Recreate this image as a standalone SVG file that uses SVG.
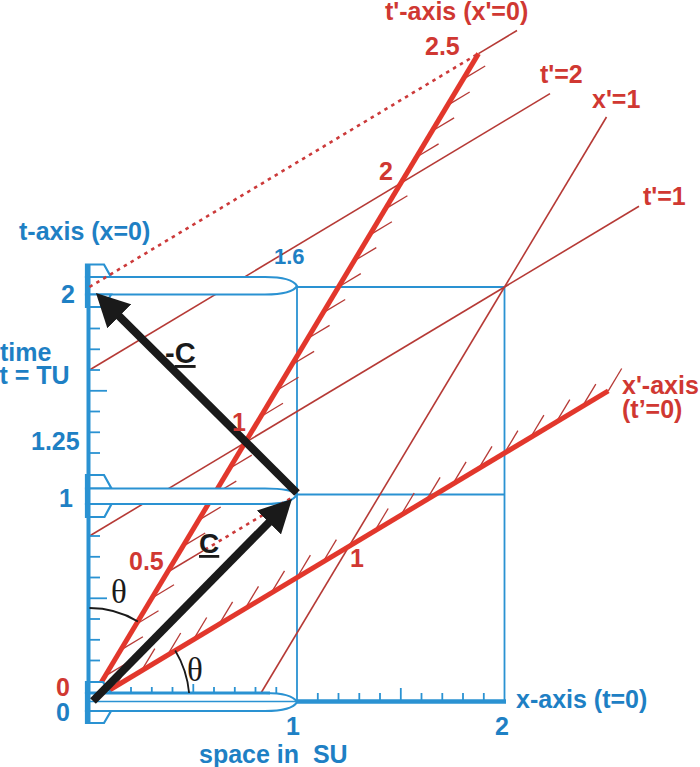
<svg xmlns="http://www.w3.org/2000/svg" width="700" height="767" viewBox="0 0 700 767">
<style>
.grid{stroke:#2a92d2;stroke-width:1.8;fill:none}
.cap{stroke:#2a92d2;stroke-width:2.2;fill:#fff}
.axb{stroke:#2a92d2;stroke-width:4;fill:none}
.tick{stroke:#2a92d2;stroke-width:1.8}
.rthin{stroke:#b63a36;stroke-width:1.6;fill:none}
.hatch{stroke:#b63a36;stroke-width:1.3}
.rthick{stroke:#e2372c;stroke-width:5;fill:none}
.dot{stroke:#cc3a3a;stroke-width:2.6;stroke-dasharray:3.5 4.5;fill:none}
.arc{stroke:#1a1a1a;stroke-width:1.8;fill:none}
.vec{stroke:#1a1a1a;stroke-width:8;fill:none;marker-end:url(#head)}
text{font-family:"Liberation Sans",Arial,sans-serif;font-weight:bold;font-size:25px}
.tr{fill:#d03832}
.tb{fill:#1e80c4}
.tk{fill:#1a1a1a}
text.th{font-family:"Liberation Serif","Times New Roman",serif;font-weight:normal;font-size:33px}
</style>
<defs>
<marker id="head" markerUnits="userSpaceOnUse" markerWidth="33" markerHeight="34" viewBox="0 0 33 34" refX="17" refY="17" orient="auto">
<path d="M0,0 L33,17 L0,34 Z" fill="#1a1a1a"/>
</marker>
</defs>

<g id="grid">
<line class="grid" x1="297" y1="287" x2="297" y2="701"/>
<line class="grid" x1="504.5" y1="287" x2="504.5" y2="701"/>
<line class="grid" x1="297" y1="287" x2="504.5" y2="287"/>
<line class="grid" x1="297" y1="494.5" x2="504.5" y2="494.5"/>
</g>

<g id="connectors">
<g id="red-lines">
<line class="rthin" x1="478.5" y1="53.6" x2="517" y2="30.5"/>
<line class="rthin" x1="89.5" y1="370" x2="550" y2="93.6"/>
<line class="rthin" x1="89.5" y1="536" x2="639" y2="206.3"/>
<line class="rthin" x1="261" y1="693" x2="606.5" y2="117"/>
<line class="rthin" x1="167.3" y1="572.3" x2="203" y2="550.9"/>
</g>
<g id="hatches-tprime">
<line class="hatch" x1="105.1" y1="676.1" x2="127.4" y2="662.7"/>
<line class="hatch" x1="120.6" y1="650.1" x2="142.9" y2="636.7"/>
<line class="hatch" x1="136.2" y1="624.2" x2="158.5" y2="610.8"/>
<line class="hatch" x1="151.7" y1="598.2" x2="174" y2="584.8"/>
<line class="hatch" x1="182.9" y1="546.4" x2="205.2" y2="533"/>
<line class="hatch" x1="198.4" y1="520.4" x2="220.7" y2="507"/>
<line class="hatch" x1="214" y1="494.5" x2="236.3" y2="481.1"/>
<line class="hatch" x1="229.5" y1="468.5" x2="251.8" y2="455.1"/>
<line class="hatch" x1="260.7" y1="416.7" x2="283" y2="403.3"/>
<line class="hatch" x1="276.2" y1="390.7" x2="298.5" y2="377.3"/>
<line class="hatch" x1="291.8" y1="364.8" x2="314.1" y2="351.4"/>
<line class="hatch" x1="307.3" y1="338.8" x2="329.6" y2="325.4"/>
<line class="hatch" x1="322.9" y1="312.9" x2="345.2" y2="299.5"/>
<line class="hatch" x1="338.5" y1="287" x2="360.8" y2="273.6"/>
<line class="hatch" x1="354" y1="261" x2="376.3" y2="247.6"/>
<line class="hatch" x1="369.6" y1="235.1" x2="391.9" y2="221.7"/>
<line class="hatch" x1="385.1" y1="209.1" x2="407.4" y2="195.7"/>
<line class="hatch" x1="416.3" y1="157.3" x2="438.6" y2="143.9"/>
<line class="hatch" x1="431.8" y1="131.3" x2="454.1" y2="117.9"/>
<line class="hatch" x1="447.4" y1="105.4" x2="469.7" y2="92"/>
<line class="hatch" x1="462.9" y1="79.4" x2="485.2" y2="66"/>
</g>
<g id="hatches-xprime">
<line class="hatch" x1="115.4" y1="686.4" x2="128.8" y2="664.1"/>
<line class="hatch" x1="141.4" y1="670.9" x2="154.8" y2="648.6"/>
<line class="hatch" x1="167.3" y1="655.3" x2="180.7" y2="633"/>
<line class="hatch" x1="193.3" y1="639.8" x2="206.7" y2="617.5"/>
<line class="hatch" x1="219.2" y1="624.2" x2="232.6" y2="601.9"/>
<line class="hatch" x1="245.1" y1="608.6" x2="258.5" y2="586.3"/>
<line class="hatch" x1="271.1" y1="593.1" x2="284.5" y2="570.8"/>
<line class="hatch" x1="297" y1="577.5" x2="310.4" y2="555.2"/>
<line class="hatch" x1="323" y1="562" x2="336.4" y2="539.7"/>
<line class="hatch" x1="374.8" y1="530.8" x2="388.2" y2="508.5"/>
<line class="hatch" x1="400.8" y1="515.3" x2="414.2" y2="493"/>
<line class="hatch" x1="426.7" y1="499.7" x2="440.1" y2="477.4"/>
<line class="hatch" x1="452.7" y1="484.2" x2="466.1" y2="461.9"/>
<line class="hatch" x1="478.6" y1="468.6" x2="492" y2="446.3"/>
<line class="hatch" x1="504.5" y1="453" x2="517.9" y2="430.7"/>
<line class="hatch" x1="530.5" y1="437.5" x2="543.9" y2="415.2"/>
<line class="hatch" x1="556.4" y1="421.9" x2="569.8" y2="399.6"/>
<line class="hatch" x1="582.4" y1="406.4" x2="595.8" y2="384.1"/>
<line class="hatch" x1="608.3" y1="390.8" x2="621.7" y2="368.5"/>
</g>
<g id="red-axes">
<line class="rthick" x1="89.5" y1="702" x2="478.5" y2="53.6"/>
<line class="rthick" x1="89.5" y1="702" x2="608.3" y2="390.8"/>
</g>
</g>

<g id="level-t2">
<path class="cap" d="M86,264.5 H104 L111,277 H86 Z"/>
<path class="cap" d="M86,277 H265 Q292,277 297,286 Q292,294.5 265,294.5 H86 Z"/>
<path class="cap" d="M86,294.5 H111 L104,307 H86 Z"/>
</g>
<g id="level-t1">
<path class="cap" d="M86,475 H104 L111.5,488.5 H86 Z"/>
<path class="cap" d="M86,488.5 H265 Q292,488.5 297,494.5 Q292,504 265,504 H86 Z"/>
<path class="cap" d="M86,504 H111.5 L104.5,517 H86 Z"/>
</g>
<g id="level-t0">
<path class="cap" d="M86,682 H103 L111,693 H86 Z"/>
<path class="cap" d="M86,693 H265 Q292,693 297,702 Q292,711 265,711 H86 Z"/>
<path class="cap" d="M86,711 H111 L104,723 H86 Z"/>
<line x1="86" y1="693" x2="270" y2="693" stroke="#2a92d2" stroke-width="3"/>
<line x1="88" y1="701.5" x2="296" y2="701.5" stroke="#2a92d2" stroke-width="1.4"/>
</g>

<g id="x-axis">
<line x1="297" y1="701.5" x2="506" y2="701.5" stroke="#2a92d2" stroke-width="4.5"/>
<g class="tick">
<line x1="131" y1="693" x2="131" y2="687"/>
<line x1="151.8" y1="693" x2="151.8" y2="687"/>
<line x1="172.5" y1="693" x2="172.5" y2="687"/>
<line x1="193.3" y1="693" x2="193.3" y2="684"/>
<line x1="214" y1="693" x2="214" y2="687"/>
<line x1="234.8" y1="693" x2="234.8" y2="687"/>
<line x1="255.5" y1="693" x2="255.5" y2="687"/>
<line x1="276.3" y1="693" x2="276.3" y2="687"/>
<line x1="317.8" y1="700" x2="317.8" y2="693"/>
<line x1="338.5" y1="700" x2="338.5" y2="693"/>
<line x1="359.3" y1="700" x2="359.3" y2="693"/>
<line x1="380" y1="700" x2="380" y2="693"/>
<line x1="400.8" y1="700" x2="400.8" y2="688"/>
<line x1="421.5" y1="700" x2="421.5" y2="693"/>
<line x1="442.3" y1="700" x2="442.3" y2="693"/>
<line x1="463" y1="700" x2="463" y2="693"/>
<line x1="483.8" y1="700" x2="483.8" y2="693"/>
</g>
</g>

<g id="t-axis">
<line class="axb" x1="88.5" y1="264.5" x2="88.5" y2="723"/>
<g class="tick">
<line x1="90" y1="660.5" x2="100" y2="660.5"/>
<line x1="90" y1="639.8" x2="100" y2="639.8"/>
<line x1="90" y1="619" x2="100" y2="619"/>
<line x1="90" y1="598.3" x2="107" y2="598.3"/>
<line x1="90" y1="577.5" x2="100" y2="577.5"/>
<line x1="90" y1="556.8" x2="100" y2="556.8"/>
<line x1="90" y1="536" x2="100" y2="536"/>
<line x1="90" y1="453" x2="100" y2="453"/>
<line x1="90" y1="432.3" x2="100" y2="432.3"/>
<line x1="90" y1="411.5" x2="100" y2="411.5"/>
<line x1="90" y1="390.8" x2="107" y2="390.8"/>
<line x1="90" y1="370" x2="100" y2="370"/>
<line x1="90" y1="349.3" x2="100" y2="349.3"/>
<line x1="90" y1="328.5" x2="100" y2="328.5"/>
</g>
</g>

<g id="dotted-lines">
<line class="dot" x1="89.5" y1="287" x2="476" y2="55"/>
<line class="dot" x1="205" y1="549.7" x2="294" y2="496.3"/>
</g>

<g id="angles">
<path class="arc" d="M89.5,608 A94,94 0 0 1 137.9,621.4"/>
<path class="arc" d="M175.2,650.5 A100,100 0 0 1 189.1,693"/>
</g>

<g id="vectors">
<line id="vec-c" class="vec" x1="93" y1="701" x2="280.8" y2="510.4"/>
<line id="vec-minus-c" class="vec" x1="297" y1="493" x2="107.3" y2="304.3"/>
</g>

<g id="labels">
<text class="tr" x="385" y="20">t'-axis (x'=0)</text>
<text class="tr" x="425" y="55">2.5</text>
<text class="tr" x="540" y="83">t'=2</text>
<text class="tr" x="592" y="108">x'=1</text>
<text class="tr" x="643" y="205">t'=1</text>
<text class="tr" x="379" y="180">2</text>
<text class="tr" x="232" y="431">1</text>
<text class="tr" x="129" y="570">0.5</text>
<text class="tr" x="350" y="567">1</text>
<text class="tr" x="622" y="394">x'-axis</text>
<text class="tr" x="622" y="418">(t’=0)</text>
<text class="tr" x="56" y="696">0</text>
<text class="tb" x="19" y="240">t-axis (x=0)</text>
<text class="tb" x="274" y="264" style="font-size:22px">1.6</text>
<text class="tb" x="61" y="303">2</text>
<text class="tb" x="0" y="361">time</text>
<text class="tb" x="-0.5" y="384">t = TU</text>
<text class="tb" x="31" y="450">1.25</text>
<text class="tb" x="59" y="507">1</text>
<text class="tb" x="56" y="721">0</text>
<text class="tb" x="286" y="735">1</text>
<text class="tb" x="495" y="735">2</text>
<text class="tb" x="516" y="708">x-axis (t=0)</text>
<text class="tb" x="199" y="763" xml:space="preserve">space in  SU</text>
<text class="tk th" x="111" y="603">θ</text>
<text class="tk th" x="187" y="681">θ</text>
<text class="tk" x="165" y="363" style="font-size:29px">-<tspan text-decoration="underline">C</tspan></text>
<text class="tk" x="199" y="553" style="font-size:28px" text-decoration="underline">C</text>
</g>
</svg>
